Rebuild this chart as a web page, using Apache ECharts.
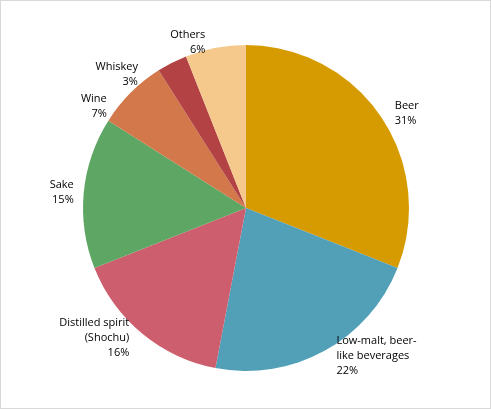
<!DOCTYPE html>
<html><head><meta charset="utf-8">
<script src="https://cdn.jsdelivr.net/npm/echarts@6/dist/echarts.min.js"></script>
<style>html,body{margin:0;padding:0;background:#fff}#c{width:489px;height:407px;border:1px solid #d9d9d9}</style>
</head><body><div id="c"></div>
<script>
const categories=["Beer","Low-malt, beer-\nlike beverages","Distilled spirit\n(Shochu)","Sake","Wine","Whiskey","Others"];
const values=[31,22,16,15,7,3,6];
const colors=["#D59B00","#52A0B8","#CD5E6E","#5EA664","#D2784A","#B24244","#F5C88C"];
const chart=echarts.init(document.getElementById('c'));
chart.setOption({
 animation:false,
 series:[{type:'pie',center:[245,207],radius:163,startAngle:90,clockwise:true,
  data:categories.map((n,i)=>({name:n,value:values[i],itemStyle:{color:colors[i]}})),
  label:{show:true,position:'outside',formatter:p=>p.name+'\n'+p.value+'%',color:'#000',fontFamily:'Open Sans',fontSize:11,lineHeight:15,align:'center'},
  labelLine:{show:false,length:6,length2:4},
  labelLayout:{hideOverlap:false}
 }]
});
</script></body></html>
